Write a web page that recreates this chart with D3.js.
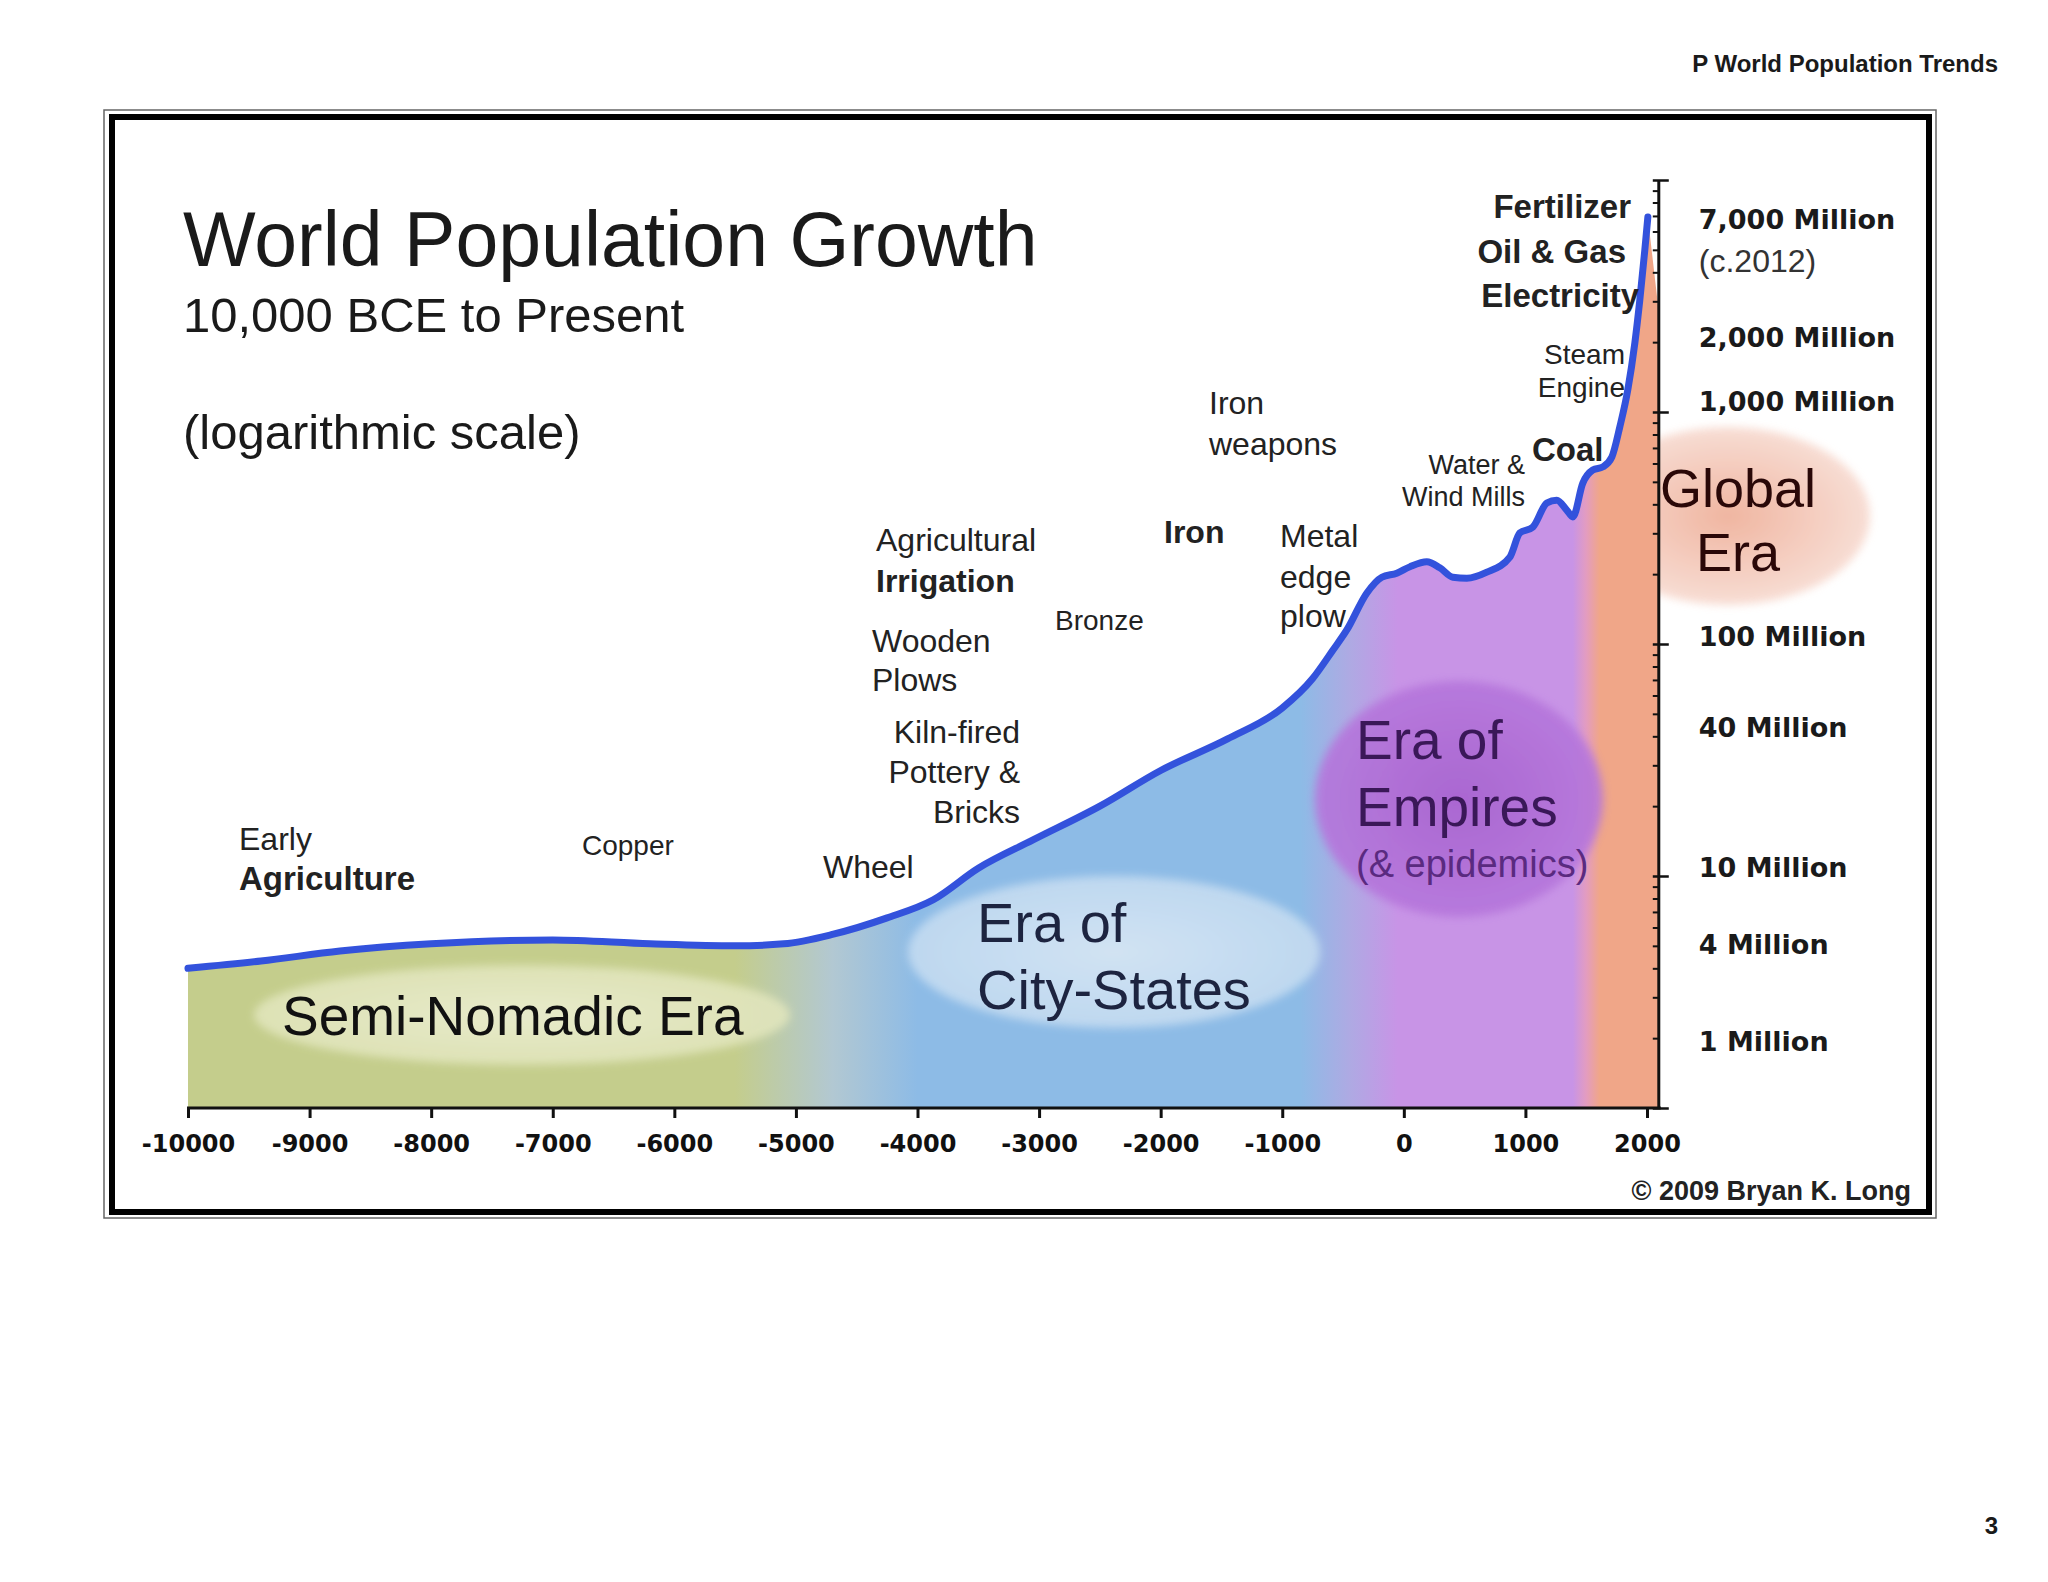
<!DOCTYPE html>
<html>
<head>
<meta charset="utf-8">
<script src="https://cdn.jsdelivr.net/npm/d3@7"></script>
<style>
body{margin:0;background:#fff;}
svg text{font-family:"Liberation Sans", Arial, sans-serif;fill:#1a1a1a;}
</style>
</head>
<body>
<div class="chart"></div>
<script>
// world population, millions
var years=[-10000,-9400,-8750,-8000,-7000,-6200,-5500,-5100,-4700,-4250,-3870,-3500,-3050,-2500,-2000,-1450,-1000,-750,
  -584,-469,-304,-181,-58,49,189,296,403,518,683,872,954,1061,1176,1258,1340,1390,1472,1554,1637,1711,1776,1842,1900,1941,1982,2007];
var population=[4.0,4.3,4.75,5.1,5.3,5.1,5.0,5.1,5.6,6.6,7.9,10.8,14.3,20,28.5,39,53,71,
  94,115,166,194,202,215,226,213,194,192,204,237,301,319,405,417,378,353,494,562,580,640,861,1245,1983,3040,4990,6920];
// orange fill runs on past the line up to the axis
var fillEndYear=2097, fillEndPop=2700;

var xTicks=[-10000,-9000,-8000,-7000,-6000,-5000,-4000,-3000,-2000,-1000,0,1000,2000];
var yMajor=[1,10,100,1000,10000];
var yLabelValues=[7000,2000,1000,100,40,10,4,1];
var yLabelText=["7,000 Million","2,000 Million","1,000 Million","100 Million","40 Million","10 Million","4 Million","1 Million"];

// background colour bands: year where each colour is reached
var bandYears=[-10000,-5500,-4700,-4000,-850,-450,-50,1390,1500,1610,2100];
var bandColors=["#c4cd8c","#c4cd8c","#b2c8d2","#8dbbe6","#8dbbe6","#aeaae3","#c894e6","#c894e6","#e39cc0","#f0a688","#f0a688"];

var data=years.map(function(d,i){return {year:d, pop:population[i]};});

var width=2048, height=1582;
var svg=d3.select(".chart").append("svg")
  .attr("width",width)
  .attr("height",height);

var xScale=d3.scaleLinear().domain([-10000,2000]).range([188,1647]);
var yScale=d3.scaleLog().domain([1,10000]).range([1108,180]);
var axisX=xScale(fillEndYear);

// frame
svg.append("rect").attr("x",104).attr("y",110).attr("width",1832).attr("height",1108)
  .attr("fill","none").attr("stroke","#666").attr("stroke-width",1.5);
svg.append("rect").attr("x",112).attr("y",117).attr("width",1817).attr("height",1095)
  .attr("fill","#fff").attr("stroke","#000").attr("stroke-width",6);

// page header / footer
svg.append("text").text("P World Population Trends")
  .attr("x",1998).attr("y",72).attr("text-anchor","end")
  .style("font-weight","bold").style("font-size","24px");
svg.append("text").text("3")
  .attr("x",1998).attr("y",1534).attr("text-anchor","end")
  .style("font-weight","bold").style("font-size","24px");

var defs=svg.append("defs");
var grad=defs.append("linearGradient").attr("id","bands")
  .attr("gradientUnits","userSpaceOnUse")
  .attr("x1",xScale(-10000)).attr("x2",axisX).attr("y1",0).attr("y2",0);
grad.selectAll("stop").data(bandYears).enter().append("stop")
  .attr("offset",function(d){return (xScale(d)-xScale(-10000))/(axisX-xScale(-10000));})
  .attr("stop-color",function(d,i){return bandColors[i];});

defs.append("filter").attr("id","soft").attr("x","-20%").attr("y","-20%").attr("width","140%").attr("height","140%")
  .append("feGaussianBlur").attr("stdDeviation",4);

function radial(id, inner, outer){
  var g=defs.append("radialGradient").attr("id",id);
  g.append("stop").attr("offset",0).attr("stop-color",inner);
  g.append("stop").attr("offset",1).attr("stop-color",outer);
}
radial("gNomad","#eef0d6","#e2e6bd");
radial("gCity","#e3edf7","#cadff2");
radial("gEmp","#a763cf","#b677dc");
radial("gGlob","#efae97","#f7dad0");

// the global era blob sits behind the filled area, the others on top
function ellipse(d){
  svg.append("ellipse")
    .attr("cx",d.cx).attr("cy",d.cy)
    .attr("rx",d.rx).attr("ry",d.ry)
    .attr("fill",d.fill)
    .attr("opacity",d.op)
    .attr("filter","url(#soft)");
}
ellipse({cx:1728, cy:516, rx:142, ry:89, fill:"url(#gGlob)", op:0.9});

// filled area under the curve
var line=d3.line()
  .x(function(d){return xScale(d.year);})
  .y(function(d){return yScale(d.pop);})
  .curve(d3.curveMonotoneX);

var areaPath=line(data)
  +"L"+axisX+","+yScale(fillEndPop)
  +"L"+axisX+","+yScale(1)
  +"L"+xScale(-10000)+","+yScale(1)+"Z";
svg.append("path").attr("d",areaPath).attr("fill","url(#bands)");

ellipse({cx:522, cy:1015, rx:268, ry:50, fill:"url(#gNomad)", op:0.85});
ellipse({cx:1114, cy:952, rx:206, ry:76, fill:"url(#gCity)", op:0.8});
ellipse({cx:1459, cy:799, rx:144, ry:118, fill:"url(#gEmp)", op:0.9});

// population line
svg.append("path").datum(data)
  .attr("d",line)
  .attr("fill","none")
  .attr("stroke","#3352dc")
  .attr("stroke-width",7)
  .attr("stroke-linejoin","round")
  .attr("stroke-linecap","round");

// x axis
var xAxis=svg.append("g")
  .attr("class","x axis")
  .attr("transform","translate(0,"+yScale(1)+")")
  .call(d3.axisBottom(xScale).tickValues(xTicks).tickSize(10).tickPadding(17)
    .tickFormat(function(d){return String(d);}));
xAxis.select(".domain").remove();
xAxis.selectAll(".tick line").attr("stroke","#111").attr("stroke-width",3);
xAxis.selectAll(".tick text")
  .style("font-family","'DejaVu Sans', Verdana, sans-serif")
  .style("font-weight","bold").style("font-size","24px").style("fill","#111");
svg.append("line").attr("x1",xScale(-10000)-1).attr("x2",axisX+2)
  .attr("y1",yScale(1)).attr("y2",yScale(1))
  .attr("stroke","#111").attr("stroke-width",3);

// y axis: minor ticks left, major ticks both sides
var yMinor=[];
yMajor.slice(0,-1).forEach(function(m){
  for(var k=2;k<=9;k++){yMinor.push(m*k);}
});
var yAxisMinor=svg.append("g")
  .attr("transform","translate("+axisX+",0)")
  .call(d3.axisLeft(yScale).tickValues(yMinor).tickSize(6).tickFormat(""));
yAxisMinor.select(".domain").remove();
yAxisMinor.selectAll(".tick line").attr("stroke","#111").attr("stroke-width",2);

var yAxisMajor=svg.append("g")
  .attr("transform","translate("+(axisX-6)+",0)")
  .call(d3.axisRight(yScale).tickValues(yMajor).tickSize(16).tickFormat(""));
yAxisMajor.select(".domain").remove();
yAxisMajor.selectAll(".tick line").attr("stroke","#111").attr("stroke-width",2.5);

svg.append("line").attr("x1",axisX).attr("x2",axisX)
  .attr("y1",yScale(10000)).attr("y2",yScale(1)+1)
  .attr("stroke","#111").attr("stroke-width",3);

// y labels, nudged like the original hand placed ones
var labelNudge={7000:3,2000:-5,1000:-11,100:-8,40:-9,10:-9,4:-24,1:-67};
svg.selectAll("text.ylab").data(yLabelValues).enter().append("text")
  .attr("class","ylab")
  .attr("x",axisX+40)
  .attr("y",function(d){return yScale(d)+labelNudge[d];})
  .attr("dy","0.36em")
  .text(function(d,i){return yLabelText[i];})
  .style("font-family","'DejaVu Sans', Verdana, sans-serif")
  .style("font-weight","bold").style("font-size","27px");
svg.append("text").text("(c.2012)")
  .attr("x",axisX+40).attr("y",yScale(7000)+45).attr("dy","0.36em")
  .style("font-size","32px").style("fill","#333");

// titles
svg.append("text").text("World Population Growth")
  .attr("x",183).attr("y",266).style("font-size","77px");
svg.append("text").text("10,000 BCE to Present")
  .attr("x",183).attr("y",332).style("font-size","49px");
svg.append("text").text("(logarithmic scale)")
  .attr("x",183).attr("y",449).style("font-size","49px");

// technology notes
var notes=[
  ["Early",239,838,32,"normal","start"],
  ["Agriculture",239,878,33,"bold","start"],
  ["Copper",582,845,28,"normal","start"],
  ["Wheel",823,866,32,"normal","start"],
  ["Kiln-fired",1020,731,32,"normal","end"],
  ["Pottery &",1020,771,32,"normal","end"],
  ["Bricks",1020,811,32,"normal","end"],
  ["Wooden",872,640,32,"normal","start"],
  ["Plows",872,679,32,"normal","start"],
  ["Agricultural",876,539,32,"normal","start"],
  ["Irrigation",876,580,32,"bold","start"],
  ["Bronze",1055,620,28,"normal","start"],
  ["Iron",1164,531,32,"bold","start"],
  ["Iron",1209,402,32,"normal","start"],
  ["weapons",1209,443,32,"normal","start"],
  ["Metal",1280,535,32,"normal","start"],
  ["edge",1280,576,32,"normal","start"],
  ["plow",1280,615,32,"normal","start"],
  ["Water &",1525,464,27,"normal","end"],
  ["Wind Mills",1525,496,27,"normal","end"],
  ["Coal",1532,449,33,"bold","start"],
  ["Steam",1625,354,28,"normal","end"],
  ["Engine",1625,387,28,"normal","end"],
  ["Fertilizer",1631,206,33,"bold","end"],
  ["Oil & Gas",1626,251,33,"bold","end"],
  ["Electricity",1639,295,33,"bold","end"]
];
svg.selectAll("text.note").data(notes).enter().append("text")
  .attr("class","note")
  .attr("x",function(d){return d[1];})
  .attr("y",function(d){return d[2];})
  .attr("dy","0.36em")
  .attr("text-anchor",function(d){return d[5];})
  .style("font-size",function(d){return d[3]+"px";})
  .style("font-weight",function(d){return d[4];})
  .style("fill","#222")
  .text(function(d){return d[0];});

// era names
var eraText=[
  ["Semi-Nomadic Era",282,1015,55,"#111"],
  ["Era of",977,922,56,"#1d2440"],
  ["City-States",977,989,56,"#1d2440"],
  ["Era of",1356,739,55,"#3a1858"],
  ["Empires",1356,806,55,"#3a1858"],
  ["(& epidemics)",1356,863,38,"#5a2a80"],
  ["Global",1660,488,54,"#2a0808"],
  ["Era",1696,552,54,"#2a0808"]
];
svg.selectAll("text.era").data(eraText).enter().append("text")
  .attr("class","era")
  .attr("x",function(d){return d[1];})
  .attr("y",function(d){return d[2];})
  .attr("dy","0.36em")
  .style("font-size",function(d){return d[3]+"px";})
  .style("fill",function(d){return d[4];})
  .text(function(d){return d[0];});

svg.append("text").text("\u00a9 2009 Bryan K. Long")
  .attr("x",1911).attr("y",1190).attr("dy","0.36em").attr("text-anchor","end")
  .style("font-size","27px").style("font-weight","bold").style("fill","#222");
</script>
</body>
</html>
